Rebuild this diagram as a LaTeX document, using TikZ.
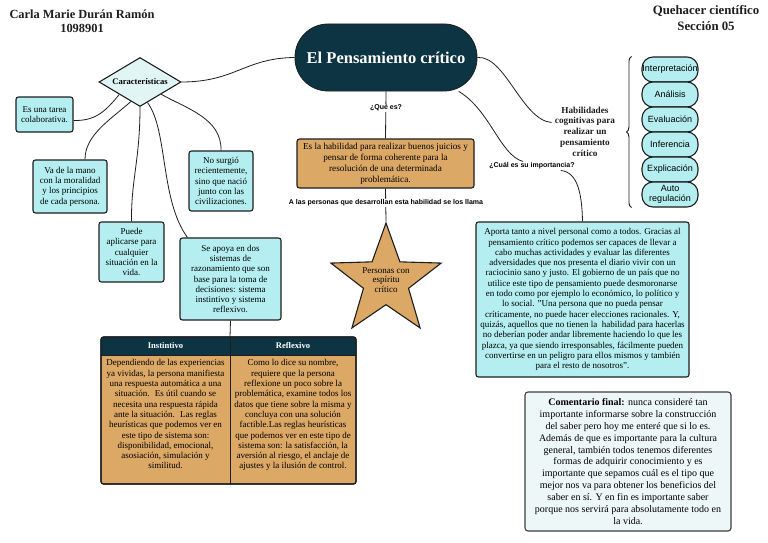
\documentclass[tikz,border=0pt]{standalone}
\usepackage{fontspec}
\setmainfont{Liberation Serif}
\setsansfont{Liberation Sans}
\usetikzlibrary{shapes.geometric,decorations.pathreplacing,calc}
\pgfdeclarelayer{background}
\pgfsetlayers{background,main}
\definecolor{darkteal}{HTML}{0C3442}
\definecolor{cyanbox}{HTML}{B4EEF0}
\definecolor{tanbox}{HTML}{DCA866}
\definecolor{diafill}{HTML}{E1F5F5}
\definecolor{comfill}{HTML}{EEF7F7}
\definecolor{ink}{HTML}{1E1E1E}
\tikzset{
  cbox/.style={draw=ink, line width=1.1pt, fill=cyanbox, rounded corners=2.5pt, align=center, inner sep=1pt, font=\fontsize{9}{10.3}\selectfont},
  pill/.style={draw=ink, line width=1.1pt, fill=cyanbox, rounded corners=11pt, minimum width=56pt, minimum height=25pt, inner sep=0pt, align=center, font=\sffamily\fontsize{9}{10}\selectfont},
  lbl/.style={fill=white, inner sep=1pt, font=\sffamily\bfseries\fontsize{7}{8}\selectfont},
  conn/.style={draw=ink, line width=0.8pt},
  celltext/.style={align=center, inner sep=0pt, anchor=north, font=\fontsize{9}{10.3}\selectfont},
  headtext/.style={text=white, font=\bfseries\fontsize{8.6}{10}\selectfont},
}
\begin{document}
\begin{tikzpicture}[x=1pt,y=-1pt]
\useasboundingbox (0,0) rectangle (768,543);
\begin{pgfonlayer}{background}
\fill[white] (0,0) rectangle (768,543);
\end{pgfonlayer}

% headers
\node[align=center, text=ink, font=\bfseries\fontsize{12.4}{14}\selectfont] (author) at (82,21) {Carla Marie Durán Ramón\\1098901};
\node[align=center, text=ink, font=\bfseries\fontsize{12.8}{16}\selectfont] (course) at (706,18) {Quehacer científico\\Sección 05};

% central node
\node[fill=darkteal, draw=ink, line width=0.8pt, rounded corners=33pt, minimum width=182pt, minimum height=67pt, text=white, font=\bfseries\fontsize{16.5}{19}\selectfont] (main) at (386,57.5) {El Pensamiento crítico};

% characteristics
\node[diamond, draw=ink, line width=1.1pt, fill=diafill, aspect=1.67, minimum width=82pt, minimum height=49pt, inner sep=0pt, font=\bfseries\fontsize{8.6}{10}\selectfont] (dia) at (140,82) {Características};

\node[cbox, minimum width=57pt, minimum height=35pt] (tarea) at (44.5,114.5) {Es una tarea\\colaborativa.};
\node[cbox, minimum width=74pt, minimum height=53pt] (mano) at (70,186.5) {Va de la mano\\con la moralidad\\y los principios\\de cada persona.};
\node[cbox, minimum width=64pt, minimum height=60pt] (surgio) at (221,181) {No surgió\\recientemente,\\sino que nació\\junto con las\\civilizaciones.};
\node[cbox, minimum width=65pt, minimum height=60pt] (puede) at (131.5,252) {Puede\\aplicarse para\\cualquier\\situación en la\\vida.};
\node[cbox, minimum width=101pt, minimum height=82pt] (apoya) at (230.5,279) {Se apoya en dos\\sistemas de\\razonamiento que son\\base para la toma de\\decisiones: sistema\\instintivo y sistema\\reflexivo.};

% table
\draw[ink, line width=1.1pt, fill=tanbox, rounded corners=2.5pt] (101,337) rectangle (356,484);
\path[fill=darkteal] (101,355) [rounded corners=2.5pt] -- (101,337) -- (356,337) [sharp corners] -- (356,355) -- cycle;
\draw[ink, line width=1.1pt, rounded corners=2.5pt] (101,337) rectangle (356,484);
\draw[ink, line width=0.9pt] (101,355) -- (356,355);
\draw[ink, line width=1pt] (230,337) -- (230,484);
\coordinate (tabtop) at (230,337);
\node[headtext] (insth) at (165.5,346) {Instintivo};
\node[headtext] (refh) at (293,346) {Reflexivo};
\node[celltext] (instt) at (165.5,359.5) {Dependiendo de las experiencias\\ya vividas, la persona manifiesta\\una respuesta automática a una\\situación.~ Es útil cuando se\\necesita una respuesta rápida\\ante la situación.~ Las reglas\\heurísticas que podemos ver en\\este tipo de sistema son:\\disponibilidad, emocional,\\asosiación, simulación y\\similitud.};
\node[celltext] (reft) at (293,359.5) {Como lo dice su nombre,\\requiere que la persona\\reflexione un poco sobre la\\problemática, examine todos los\\datos que tiene sobre la misma y\\concluya con una solución\\factible.Las reglas heurísticas\\que podemos ver en este tipo de\\sistema son: la satisfacción, la\\aversión al riesgo, el anclaje de\\ajustes y la ilusión de control.};

% definition
\node[lbl] (quees) at (386,108) {¿Qué es?};
\node[draw=ink, line width=1.1pt, fill=tanbox, rounded corners=2.5pt, minimum width=177pt, minimum height=49pt, align=center, inner sep=1pt, font=\fontsize{9.2}{11}\selectfont] (def) at (385.5,163.5) {Es la habilidad para realizar buenos juicios y\\pensar de forma coherente para la\\resolución de una determinada\\problemática.};
\node[lbl] (llama) at (386,203) {A las personas que desarrollan esta habilidad se los llama};
\node[star, star points=5, star point ratio=2.45, minimum size=116pt, draw=ink, line width=1.1pt, fill=tanbox, inner sep=0pt] (star) at (386,281) {};
\node[align=center, font=\fontsize{9}{9.7}\selectfont] (startext) at (386,280) {Personas con\\espíritu\\crítico};

% skills
\node[align=center, text=ink, font=\bfseries\fontsize{9.2}{10.75}\selectfont] (habil) at (585,131.5) {Habilidades\\cognitivas para\\realizar un\\pensamiento\\crítico};
\node[pill] (p1) at (670,69.5) {Interpretación};
\node[pill] (p2) at (670,94.5) {Análisis};
\node[pill] (p3) at (670,119.5) {Evaluación};
\node[pill] (p4) at (670,144.5) {Inferencia};
\node[pill] (p5) at (670,169.5) {Explicación};
\node[pill] (p6) at (670,194.5) {Auto\\regulación};
\draw[ink, line width=0.9pt, decorate, decoration={brace, amplitude=5pt}] ([xshift=-10pt]p6.south west) -- ([xshift=-10pt]p1.north west);

% importance
\node[lbl] (cual) at (532,166) {¿Cuál es su importancia?};
\node[cbox, minimum width=213pt, minimum height=155pt] (imp) at (582.5,299.5) {Aporta tanto a nivel personal como a todos. Gracias al\\pensamiento crítico podemos ser capaces de llevar a\\cabo muchas actividades y evaluar las diferentes\\adversidades que nos presenta el diario vivir con un\\raciocinio sano y justo. El gobierno de un país que no\\utilice este tipo de pensamiento puede desmoronarse\\en todo como por ejemplo lo económico, lo político y\\lo social. "Una persona que no pueda pensar\\críticamente, no puede hacer elecciones racionales. Y,\\quizás, aquellos que no tienen la~ habilidad para hacerlas\\no deberían poder andar libremente haciendo lo que les\\plazca, ya que siendo irresponsables, fácilmente pueden\\convertirse en un peligro para ellos mismos y también\\para el resto de nosotros".};

% comment
\node[draw=ink!85, line width=1.1pt, fill=comfill, rounded corners=3pt, minimum width=206pt, minimum height=139pt, align=center, inner sep=1pt, font=\fontsize{10}{11.9}\selectfont] (com) at (628,461.5) {\textbf{Comentario final:} nunca consideré tan\\importante informarse sobre la construcción\\del saber pero hoy me enteré que si lo es.\\Además de que es importante para la cultura\\general, también todos tenemos diferentes\\formas de adquirir conocimiento y es\\importante que sepamos cuál es el tipo que\\mejor nos va para obtener los beneficios del\\saber en sí. Y en fin es importante saber\\porque nos servirá para absolutamente todo en\\la vida.};

% connectors
\begin{pgfonlayer}{background}
\draw[conn] (dia.east) .. controls (235,82) and (245,58) .. (main.west);
\draw[conn] (dia.south west) .. controls (105,112) and (95,121) .. ([yshift=-6pt]tarea.east);
\draw[conn] (dia.-115) .. controls (110,120) and (85,135) .. ([xshift=15pt]mano.north);
\draw[conn] (dia.south) .. controls (140,160) and (131,180) .. (puede.north);
\draw[conn] (dia.-70) .. controls (168,130) and (160,200) .. ([xshift=8pt]apoya.north west);
\draw[conn] (dia.-30) .. controls (185,108) and (222,118) .. (surgio.north);
\draw[conn] (apoya.south) -- (tabtop);
\draw[conn] (main.south) -- (def.north);
\draw[conn] (def.south) -- (star.north);
\draw[conn] (main.east) .. controls (505,55) and (522,120) .. ([yshift=9pt]habil.west);
\draw[conn] (main.-25) .. controls (490,110) and (500,155) .. ([xshift=-9pt]cual.north);
\draw[conn] ([xshift=-15pt]cual.south east) .. controls (578,172) and (582,195) .. (imp.north);
\end{pgfonlayer}
\end{tikzpicture}
\end{document}
